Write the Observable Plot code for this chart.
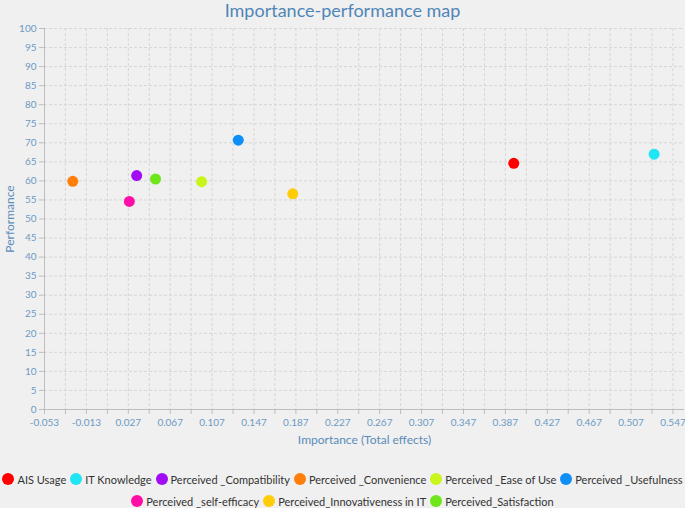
<!DOCTYPE html>
<html>
<head>
<meta charset="utf-8">
<script src="https://cdn.jsdelivr.net/npm/d3@7"></script>
<script src="https://cdn.jsdelivr.net/npm/@observablehq/plot@0.6"></script>
<style>
  html, body { margin: 0; padding: 0; background: #f0f0f0; width: 685px; height: 508px; overflow: hidden; font-family: Lato, "Open Sans", sans-serif; }
  #title { height: 22px; line-height: 20px; font-size: 18px; color: #4f86b8; text-align: center; }
  #chart svg { display: block; overflow: visible; }
  .legend { display: flex; justify-content: center; align-items: center; height: 22px; font-size: 11px; color: #333; white-space: nowrap; }
  .item { display: flex; align-items: center; margin: 0 2px; }
  .sw { width: 12px; height: 12px; border-radius: 50%; margin-right: 3px; }
</style>
</head>
<body>
<div id="title">Importance-performance map</div>
<div id="chart"></div>
<div id="legend" style="margin-top:6px"></div>
<script>
const categories = ["AIS Usage", "IT Knowledge", "Perceived _Compatibility", "Perceived _Convenience", "Perceived _Ease of Use", "Perceived _Usefulness", "Perceived _self-efficacy", "Perceived_Innovativeness in IT", "Perceived_Satisfaction"];
const importance = [0.395, 0.529, 0.035, -0.026, 0.097, 0.132, 0.028, 0.184, 0.053];
const performance = [64.6, 67.0, 61.4, 59.9, 59.8, 70.7, 54.6, 56.6, 60.5];
const colors = ["#ff0000", "#1fe5f5", "#a10cf5", "#ff7f0a", "#c9f51a", "#0f8ff5", "#ff0fa5", "#ffcc0a", "#6ee61a"];
const xTicks = [-0.053, -0.033, -0.013, 0.007, 0.027, 0.047, 0.067, 0.087, 0.107, 0.127, 0.147, 0.167, 0.187, 0.207, 0.227, 0.247, 0.267, 0.287, 0.307, 0.327, 0.347, 0.367, 0.387, 0.407, 0.427, 0.447, 0.467, 0.487, 0.507, 0.527, 0.547];
const yTicks = [0, 5, 10, 15, 20, 25, 30, 35, 40, 45, 50, 55, 60, 65, 70, 75, 80, 85, 90, 95, 100];

const data = categories.map((c, i) => ({name: c, x: importance[i], y: performance[i], color: colors[i]}));
const tickColor = "#6d9ac4";

const plot = Plot.plot({
  width: 685,
  height: 440,
  marginTop: 6,
  marginLeft: 44,
  marginRight: 1,
  marginBottom: 53,
  style: {background: "transparent", fontFamily: "Lato, 'Open Sans', sans-serif", overflow: "visible"},
  x: {domain: [-0.053, 0.558]},
  y: {domain: [0, 100]},
  marks: [
    Plot.gridX(xTicks.slice(1), {stroke: "#d6d6d6", strokeOpacity: 1, strokeDasharray: "3,2"}),
    Plot.gridY(yTicks.slice(1), {stroke: "#d6d6d6", strokeOpacity: 1, strokeDasharray: "3,2"}),
    Plot.axisX({ticks: xTicks, tickSize: 5, stroke: "#bdbdbd", color: tickColor, fontSize: 10, tickPadding: 4,
      tickFormat: (d, i) => (i % 2 === 0 ? d.toFixed(3) : ""), label: null}),
    Plot.axisY({ticks: yTicks, tickSize: 5, stroke: "#bdbdbd", color: tickColor, fontSize: 10, tickPadding: 3,
      tickFormat: d => String(d), label: null}),
    Plot.ruleY([0], {stroke: "#bdbdbd"}),
    Plot.ruleX([-0.053], {stroke: "#bdbdbd"}),
    Plot.text(["Importance (Total effects)"], {frameAnchor: "bottom", dy: 34, fontSize: 12, fill: "#5a8bba"}),
    Plot.text(["Performance"], {frameAnchor: "left", textAnchor: "middle", dx: -34, rotate: -90, fontSize: 12, fill: "#5a8bba"}),
    Plot.dot(data, {x: "x", y: "y", fill: "color", r: 5.5})
  ]
});
document.getElementById("chart").appendChild(plot);

const legend = document.getElementById("legend");
const rows = [categories.slice(0, 6), categories.slice(6)];
rows.forEach(row => {
  const div = document.createElement("div");
  div.className = "legend";
  row.forEach(name => {
    const it = document.createElement("div");
    it.className = "item";
    const sw = document.createElement("div");
    sw.className = "sw";
    sw.style.background = colors[categories.indexOf(name)];
    const t = document.createElement("span");
    t.textContent = name;
    it.appendChild(sw); it.appendChild(t);
    div.appendChild(it);
  });
  legend.appendChild(div);
});
</script>
</body>
</html>
